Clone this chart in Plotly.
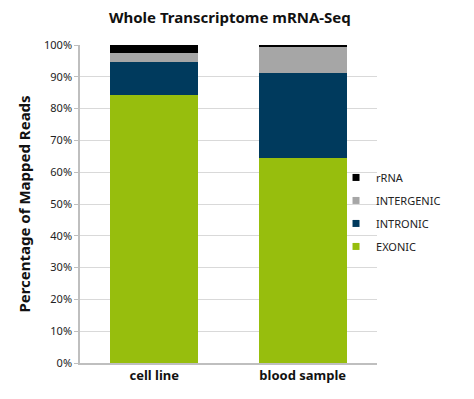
import plotly.graph_objects as go

categories = ["cell line", "blood sample"]
exonic = [84.2, 64.5]
intronic = [10.6, 26.6]
intergenic = [2.8, 8.4]
rrna = [2.4, 0.5]
series_names = ["EXONIC", "INTRONIC", "INTERGENIC", "rRNA"]
series_values = [exonic, intronic, intergenic, rrna]
colors = ["#97BE0D", "#003A5D", "#A6A6A6", "#000000"]
y_ticks = list(range(0, 101, 10))

FONT = "Noto Sans, Open Sans, sans-serif"

fig = go.Figure()
for name, vals, col in zip(series_names, series_values, colors):
    fig.add_trace(go.Bar(
        x=categories, y=vals, name=name, marker=dict(color=col, line=dict(width=0)),
        legendgroup=name, hoverinfo="y+name", showlegend=False,
    ))
# legend entries with small square symbols (top-down: rRNA ... EXONIC)
for rank, (name, col) in enumerate(zip(series_names, colors)):
    fig.add_trace(go.Scatter(
        x=[None], y=[None], mode="markers", name=name, legendgroup=name,
        legendrank=1000 - rank,
        marker=dict(symbol="square", size=7, color=col), showlegend=True,
    ))

fig.update_layout(
    barmode="stack",
    bargap=0.41,
    width=474, height=399,
    margin=dict(l=80, r=97, t=45, b=36),
    paper_bgcolor="white", plot_bgcolor="white",
    font=dict(family=FONT, color="#222222", size=11),
    title=dict(text="<b>Whole Transcriptome mRNA-Seq</b>", x=0.485, xanchor="center",
               y=1 - 18/399, yanchor="middle", font=dict(size=15, color="#111111")),
    legend=dict(traceorder="grouped", x=0.862, xanchor="left", y=0.475, yanchor="middle",
                font=dict(size=11, color="#222222"), tracegroupgap=4,
                itemwidth=30, bgcolor="rgba(0,0,0,0)"),
    showlegend=True,
)
fig.update_yaxes(
    range=[0, 100], tickvals=y_ticks, ticktext=[f"{v}%" for v in y_ticks],
    showgrid=True, gridcolor="#D9D9D9", gridwidth=1, zeroline=False,
    showline=True, linecolor="#BFBFBF", linewidth=1.5,
    ticks="outside", ticklen=4, tickcolor="#BFBFBF", tickwidth=1,
    tickfont=dict(size=11, color="#222222"),
    title=dict(text="<b>Percentage of Mapped Reads</b>", font=dict(size=15, color="#111111"), standoff=10),
)
fig.update_xaxes(
    showline=True, linecolor="#BFBFBF", linewidth=1.5, ticks="",
    tickfont=dict(size=13, color="#111111"),
    tickvals=categories, ticktext=[f"<b>{c}</b>" for c in categories],
)
fig.write_html("out.html", config={"displayModeBar": False},
               post_script="document.body.style.margin='0';")
